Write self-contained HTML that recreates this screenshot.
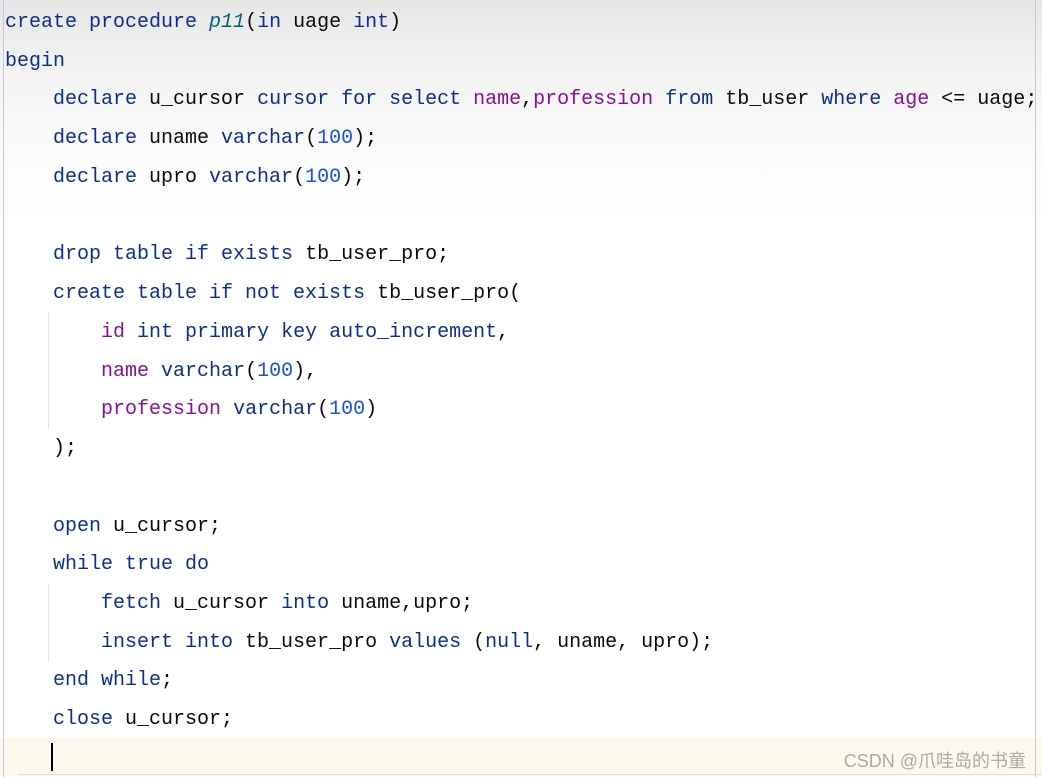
<!DOCTYPE html>
<html><head><meta charset="utf-8"><style>
html,body{margin:0;padding:0}
body{width:1042px;height:778px;overflow:hidden;position:relative;
background:linear-gradient(#e6e6e6 0px,#f2f2f2 60px,#fcfcfc 160px,#fff 220px,#fff 100%);
font-family:"Liberation Mono",monospace;font-size:20px;color:#0a0a0a}
#code{position:absolute;left:5px;top:4px;white-space:pre;line-height:38.74px}
.k{color:#0b2f8f}.p{color:#871094}.n{color:#1750eb}.f{color:#00627a;font-style:italic}
.cur{position:absolute;left:0;top:738px;width:1042px;height:38px;background:#fdf8ec}
.bar{position:absolute;background:#c9c3e6}
.g{position:absolute;width:1px;background:#e2e2e2}
</style></head><body>
<div class="cur"></div>
<div class="bar" style="left:3px;top:0;width:1px;height:778px"></div>
<div class="bar" style="left:1035px;top:0;width:1px;height:778px"></div>
<div class="bar" style="left:18px;top:774px;width:1024px;height:1px;background:#ddd"></div>
<div class="g" style="left:48px;top:312px;height:116px"></div>
<div class="g" style="left:48px;top:584px;height:78px"></div>
<div id="code"><span class="k">create procedure</span> <span class="f">p11</span>(<span class="k">in</span> uage <span class="k">int</span>)
<span class="k">begin</span>
    <span class="k">declare</span> u_cursor <span class="k">cursor for select</span> <span class="p">name</span>,<span class="p">profession</span> <span class="k">from</span> tb_user <span class="k">where</span> <span class="p">age</span> &lt;= uage;
    <span class="k">declare</span> uname <span class="k">varchar</span>(<span class="n">100</span>);
    <span class="k">declare</span> upro <span class="k">varchar</span>(<span class="n">100</span>);

    <span class="k">drop table if exists</span> tb_user_pro;
    <span class="k">create table if not exists</span> tb_user_pro(
        <span class="p">id</span> <span class="k">int primary key auto_increment</span>,
        <span class="p">name</span> <span class="k">varchar</span>(<span class="n">100</span>),
        <span class="p">profession</span> <span class="k">varchar</span>(<span class="n">100</span>)
    );

    <span class="k">open</span> u_cursor;
    <span class="k">while true do</span>
        <span class="k">fetch</span> u_cursor <span class="k">into</span> uname,upro;
        <span class="k">insert into</span> tb_user_pro <span class="k">values</span> (<span class="k">null</span>, uname, upro);
    <span class="k">end while</span>;
    <span class="k">close</span> u_cursor;
</div>
<div style="position:absolute;left:51px;top:743px;width:2px;height:28px;background:#000"></div>
<div style="position:absolute;right:16px;top:747px;font-family:'Liberation Sans','Noto Sans CJK SC',sans-serif;font-size:18px;color:#aaa">CSDN @爪哇岛的书童</div>
</body></html>
